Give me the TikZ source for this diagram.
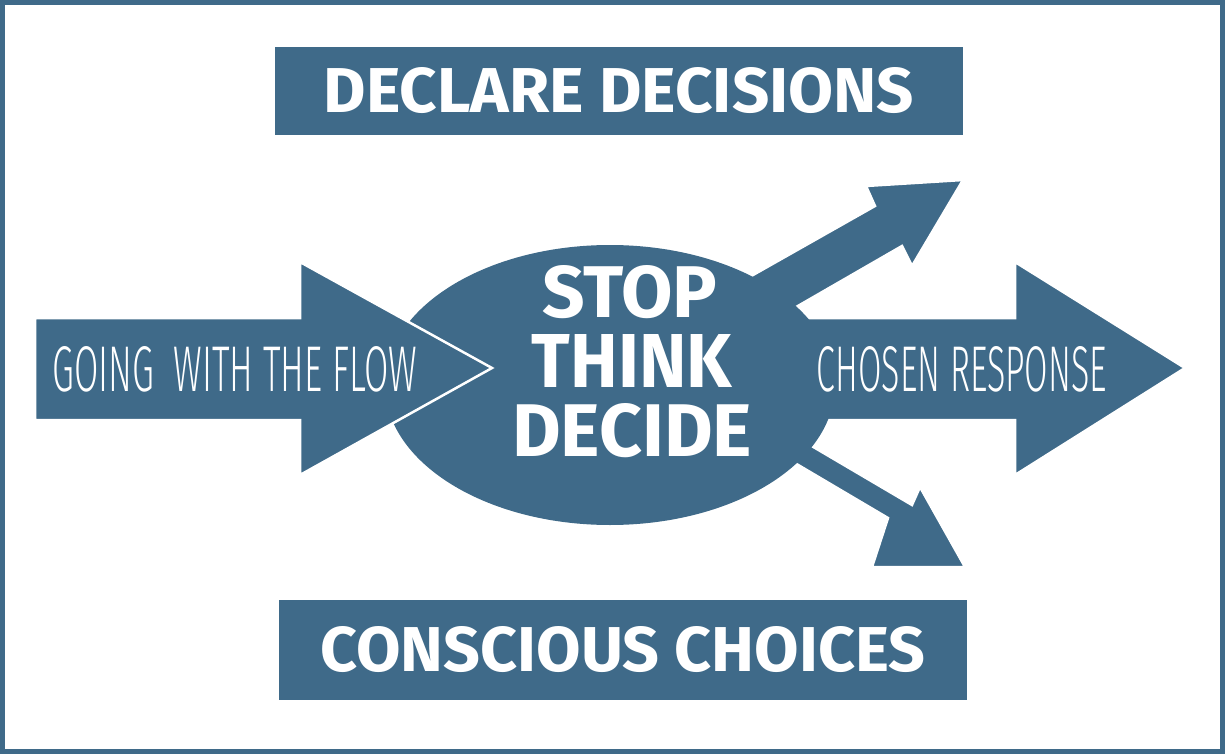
\documentclass[tikz,border=0pt]{standalone}
\usepackage{fontspec}
\setmainfont{Fira Sans}
\newfontfamily\lightf{Fira Sans Light}
\definecolor{bl}{HTML}{3F6A89}
\newcommand{\fitw}[3]{\resizebox{#1pt}{#2pt}{#3}}
\begin{document}
\begin{tikzpicture}[x=1pt,y=-1pt,
  shp/.style={fill=bl,draw=white,line width=2.5pt,line join=miter},
  lbl/.style={text=white,inner sep=0pt}]
\useasboundingbox (0,0) rectangle (1225,754);
\draw[bl,line width=5pt] (2.5,2.5) rectangle (1222.5,751.5);
\node[fill=bl,minimum width=688pt,minimum height=88pt,inner sep=0pt] (top) at (619,91) {};
\node[lbl] at (top) {\fitw{590}{45}{\bfseries DECLARE DECISIONS}};
\node[fill=bl,minimum width=688pt,minimum height=100pt,inner sep=0pt] (bot) at (623,650) {};
\node[lbl] at (bot) {\fitw{605}{45}{\bfseries CONSCIOUS CHOICES}};
% side arrows
\draw[shp] (700,305) -- (875,206) -- (866,186) -- (963,180) -- (912,266) -- (902,246) -- (725,348) -- cycle;
\draw[shp] (700,407) -- (888,518) -- (872,567) -- (965,567) -- (920,487) -- (912,505) -- (725,395) -- cycle;
\draw[shp] (760,318) -- (1015,318) -- (1015,262) -- (1185,368) -- (1015,475) -- (1015,420) -- (760,420) -- cycle;
\fill[bl] (610,385) ellipse [x radius=225, y radius=140];
\node[circle,inner sep=0pt] (ell) at (610,385) {};
% left arrow
\draw[shp] (35,318) -- (300,318) -- (300,262) -- (492,368) -- (300,475) -- (300,420) -- (35,420) -- cycle;
\node[lbl] (l) at (235,369) {\fitw{365}{45}{\lightf GOING\ \ WITH THE FLOW}};
\node[lbl] (r) at (962,369) {\fitw{290}{45}{\lightf CHOSEN RESPONSE}};
\node[lbl] at (630,292) {\fitw{175}{52}{\bfseries STOP}};
\node[lbl] at (632,361) {\fitw{200}{53}{\bfseries THINK}};
\node[lbl] at (632,431) {\fitw{240}{53}{\bfseries DECIDE}};
\end{tikzpicture}
\end{document}
